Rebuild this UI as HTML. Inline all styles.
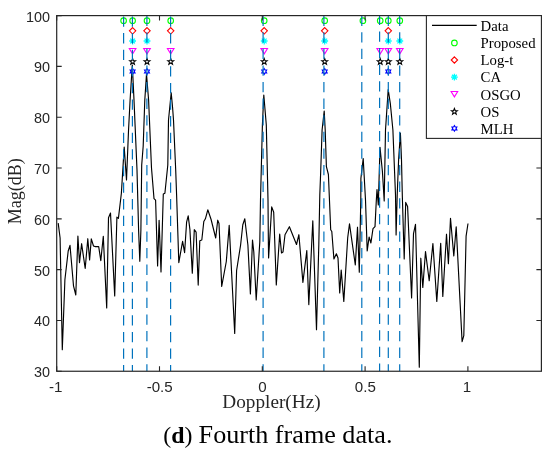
<!DOCTYPE html><html><head><meta charset="utf-8"><style>html,body{margin:0;padding:0;background:#fff;}svg{display:block;}</style></head><body>
<svg width="550" height="453" viewBox="0 0 550 453">
<rect width="550" height="453" fill="#fff"/>
<defs><clipPath id="c"><rect x="56.7" y="15.6" width="484.7" height="355.65"/></clipPath></defs>
<g clip-path="url(#c)">
<polyline points="58.2,223.1 60.1,238.0 62.3,349.7 64.9,279.8 68.2,251.0 70.0,245.4 73.5,285.8 75.8,295.0 77.9,236.0 79.5,262.6 81.6,243.7 85.2,268.5 87.8,238.7 89.6,260.0 91.3,238.9 93.5,246.0 95.4,246.6 98.7,246.6 100.8,260.6 103.3,236.4 106.7,308.0 108.5,217.7 110.5,213.0 114.7,296.0 116.9,217.1 118.4,218.4 121.4,193.0 124.2,147.1 126.5,180.0 128.5,131.0 130.1,100.0 132.3,65.0 134.0,100.0 137.0,170.0 138.6,230.0 139.8,261.3 140.9,230.0 141.7,165.0 143.2,146.0 144.8,100.0 146.5,74.0 148.6,100.0 151.5,168.0 154.0,198.6 155.6,200.2 157.6,266.0 159.1,220.3 161.0,272.0 163.3,194.0 164.9,193.2 167.8,165.0 168.5,120.0 171.2,92.8 172.6,107.7 173.5,120.0 175.7,170.0 176.6,195.0 178.8,262.6 182.6,241.4 184.6,252.6 186.6,222.2 188.2,215.9 189.9,229.4 192.3,273.2 194.3,229.7 196.1,232.1 198.2,285.1 199.8,240.7 201.8,240.0 203.8,221.5 205.4,218.8 207.8,209.8 211.1,219.5 215.7,238.0 217.7,220.2 219.0,223.5 221.7,286.4 226.3,261.5 229.2,225.4 234.7,333.4 236.6,270.5 240.6,245.0 242.8,224.7 244.8,218.8 247.9,245.0 250.4,294.0 252.5,240.0 253.8,252.0 256.2,300.0 259.8,242.0 260.5,200.0 262.4,125.0 263.8,95.0 266.3,125.0 268.0,200.0 268.4,245.0 268.6,258.0 271.7,206.9 273.7,212.2 276.3,285.0 279.7,234.0 281.5,253.0 283.0,252.0 285.0,234.7 287.6,230.0 289.4,226.7 296.5,244.5 298.9,234.7 302.9,282.4 306.8,250.6 308.8,304.6 312.8,220.8 316.5,329.7 318.8,245.0 319.8,195.0 320.7,171.4 322.1,130.0 324.2,111.0 325.2,130.0 326.4,166.7 328.4,174.5 330.7,229.7 331.8,231.5 333.9,258.9 336.4,253.8 338.0,258.0 339.7,293.0 341.2,270.0 343.8,301.5 347.7,237.7 349.5,223.8 355.3,265.0 357.5,227.2 359.3,272.2 360.8,200.0 360.9,178.4 363.2,158.5 365.5,200.0 367.2,251.0 369.1,237.0 370.9,243.0 373.0,228.7 375.0,226.6 376.3,200.7 377.0,189.5 378.3,205.0 380.0,147.3 382.4,171.4 384.2,201.0 385.5,130.0 388.2,89.5 390.3,103.3 392.9,130.0 395.5,195.0 396.1,235.0 397.2,195.0 398.6,160.0 400.4,133.0 401.5,160.0 402.3,195.0 404.2,259.0 405.7,202.4 407.6,206.5 411.6,298.0 413.5,233.7 415.5,224.4 419.3,367.2 420.8,258.2 422.8,287.4 425.5,251.6 429.2,280.8 432.9,243.5 436.8,301.5 440.7,243.3 442.8,296.5 446.5,234.2 448.4,263.6 450.5,218.3 453.8,256.0 456.2,226.8 462.1,341.7 463.8,335.7 466.1,236.1 468.0,223.5" fill="none" stroke="#000" stroke-width="1.15" stroke-linejoin="round"/>
<circle cx="123.60" cy="20.68" r="2.8" fill="none" stroke="#00ff00" stroke-width="1.1"/>
<circle cx="132.60" cy="20.68" r="2.8" fill="none" stroke="#00ff00" stroke-width="1.1"/>
<path d="M132.60 27.64L135.80 30.84L132.60 34.04L129.40 30.84Z" fill="none" stroke="#ff0000" stroke-width="1.1"/>
<path d="M129.20 41.00L136.00 41.00M130.20 38.60L135.00 43.41M132.60 37.60L132.60 44.40M135.00 38.60L130.20 43.41" fill="none" stroke="#00ffff" stroke-width="1.3"/>
<path d="M129.30 48.46L135.90 48.46L132.60 53.87Z" fill="none" stroke="#ff00ff" stroke-width="1.1"/>
<polygon points="132.60,58.53 133.37,60.57 135.55,60.67 133.84,62.03 134.42,64.13 132.60,62.93 130.78,64.13 131.36,62.03 129.65,60.67 131.83,60.57" fill="none" stroke="#000" stroke-width="1.1"/>
<polygon points="132.60,68.64 133.42,70.06 135.07,70.06 134.24,71.49 135.07,72.91 133.42,72.91 132.60,74.34 131.78,72.91 130.13,72.91 130.96,71.49 130.13,70.06 131.78,70.06" fill="none" stroke="#0000ff" stroke-width="1.1"/>
<circle cx="147.00" cy="20.68" r="2.8" fill="none" stroke="#00ff00" stroke-width="1.1"/>
<path d="M147.00 27.64L150.20 30.84L147.00 34.04L143.80 30.84Z" fill="none" stroke="#ff0000" stroke-width="1.1"/>
<path d="M143.60 41.00L150.40 41.00M144.60 38.60L149.40 43.41M147.00 37.60L147.00 44.40M149.40 38.60L144.60 43.41" fill="none" stroke="#00ffff" stroke-width="1.3"/>
<path d="M143.70 48.46L150.30 48.46L147.00 53.87Z" fill="none" stroke="#ff00ff" stroke-width="1.1"/>
<polygon points="147.00,58.53 147.77,60.57 149.95,60.67 148.24,62.03 148.82,64.13 147.00,62.93 145.18,64.13 145.76,62.03 144.05,60.67 146.23,60.57" fill="none" stroke="#000" stroke-width="1.1"/>
<polygon points="147.00,68.64 147.82,70.06 149.47,70.06 148.64,71.49 149.47,72.91 147.82,72.91 147.00,74.34 146.18,72.91 144.53,72.91 145.36,71.49 144.53,70.06 146.18,70.06" fill="none" stroke="#0000ff" stroke-width="1.1"/>
<circle cx="170.70" cy="20.68" r="2.8" fill="none" stroke="#00ff00" stroke-width="1.1"/>
<path d="M170.70 27.64L173.90 30.84L170.70 34.04L167.50 30.84Z" fill="none" stroke="#ff0000" stroke-width="1.1"/>
<path d="M167.40 48.46L174.00 48.46L170.70 53.87Z" fill="none" stroke="#ff00ff" stroke-width="1.1"/>
<polygon points="170.70,58.53 171.47,60.57 173.65,60.67 171.94,62.03 172.52,64.13 170.70,62.93 168.88,64.13 169.46,62.03 167.75,60.67 169.93,60.57" fill="none" stroke="#000" stroke-width="1.1"/>
<circle cx="264.20" cy="20.68" r="2.8" fill="none" stroke="#00ff00" stroke-width="1.1"/>
<path d="M264.20 27.64L267.40 30.84L264.20 34.04L261.00 30.84Z" fill="none" stroke="#ff0000" stroke-width="1.1"/>
<path d="M260.80 41.00L267.60 41.00M261.80 38.60L266.60 43.41M264.20 37.60L264.20 44.40M266.60 38.60L261.80 43.41" fill="none" stroke="#00ffff" stroke-width="1.3"/>
<path d="M260.90 48.46L267.50 48.46L264.20 53.87Z" fill="none" stroke="#ff00ff" stroke-width="1.1"/>
<polygon points="264.20,58.53 264.97,60.57 267.15,60.67 265.44,62.03 266.02,64.13 264.20,62.93 262.38,64.13 262.96,62.03 261.25,60.67 263.43,60.57" fill="none" stroke="#000" stroke-width="1.1"/>
<polygon points="264.20,68.64 265.02,70.06 266.67,70.06 265.84,71.49 266.67,72.91 265.02,72.91 264.20,74.34 263.38,72.91 261.73,72.91 262.56,71.49 261.73,70.06 263.38,70.06" fill="none" stroke="#0000ff" stroke-width="1.1"/>
<circle cx="324.70" cy="20.68" r="2.8" fill="none" stroke="#00ff00" stroke-width="1.1"/>
<path d="M324.70 27.64L327.90 30.84L324.70 34.04L321.50 30.84Z" fill="none" stroke="#ff0000" stroke-width="1.1"/>
<path d="M321.30 41.00L328.10 41.00M322.30 38.60L327.10 43.41M324.70 37.60L324.70 44.40M327.10 38.60L322.30 43.41" fill="none" stroke="#00ffff" stroke-width="1.3"/>
<path d="M321.40 48.46L328.00 48.46L324.70 53.87Z" fill="none" stroke="#ff00ff" stroke-width="1.1"/>
<polygon points="324.70,58.53 325.47,60.57 327.65,60.67 325.94,62.03 326.52,64.13 324.70,62.93 322.88,64.13 323.46,62.03 321.75,60.67 323.93,60.57" fill="none" stroke="#000" stroke-width="1.1"/>
<polygon points="324.70,68.64 325.52,70.06 327.17,70.06 326.34,71.49 327.17,72.91 325.52,72.91 324.70,74.34 323.88,72.91 322.23,72.91 323.06,71.49 322.23,70.06 323.88,70.06" fill="none" stroke="#0000ff" stroke-width="1.1"/>
<circle cx="362.90" cy="20.68" r="2.8" fill="none" stroke="#00ff00" stroke-width="1.1"/>
<circle cx="380.20" cy="20.68" r="2.8" fill="none" stroke="#00ff00" stroke-width="1.1"/>
<path d="M376.90 48.46L383.50 48.46L380.20 53.87Z" fill="none" stroke="#ff00ff" stroke-width="1.1"/>
<polygon points="380.20,58.53 380.97,60.57 383.15,60.67 381.44,62.03 382.02,64.13 380.20,62.93 378.38,64.13 378.96,62.03 377.25,60.67 379.43,60.57" fill="none" stroke="#000" stroke-width="1.1"/>
<circle cx="388.30" cy="20.68" r="2.8" fill="none" stroke="#00ff00" stroke-width="1.1"/>
<path d="M388.30 27.64L391.50 30.84L388.30 34.04L385.10 30.84Z" fill="none" stroke="#ff0000" stroke-width="1.1"/>
<path d="M384.90 41.00L391.70 41.00M385.90 38.60L390.70 43.41M388.30 37.60L388.30 44.40M390.70 38.60L385.90 43.41" fill="none" stroke="#00ffff" stroke-width="1.3"/>
<path d="M385.00 48.46L391.60 48.46L388.30 53.87Z" fill="none" stroke="#ff00ff" stroke-width="1.1"/>
<polygon points="388.30,58.53 389.07,60.57 391.25,60.67 389.54,62.03 390.12,64.13 388.30,62.93 386.48,64.13 387.06,62.03 385.35,60.67 387.53,60.57" fill="none" stroke="#000" stroke-width="1.1"/>
<polygon points="388.30,68.64 389.12,70.06 390.77,70.06 389.94,71.49 390.77,72.91 389.12,72.91 388.30,74.34 387.48,72.91 385.83,72.91 386.66,71.49 385.83,70.06 387.48,70.06" fill="none" stroke="#0000ff" stroke-width="1.1"/>
<circle cx="399.80" cy="20.68" r="2.8" fill="none" stroke="#00ff00" stroke-width="1.1"/>
<path d="M396.40 41.00L403.20 41.00M397.40 38.60L402.20 43.41M399.80 37.60L399.80 44.40M402.20 38.60L397.40 43.41" fill="none" stroke="#00ffff" stroke-width="1.3"/>
<path d="M396.50 48.46L403.10 48.46L399.80 53.87Z" fill="none" stroke="#ff00ff" stroke-width="1.1"/>
<polygon points="399.80,58.53 400.57,60.57 402.75,60.67 401.04,62.03 401.62,64.13 399.80,62.93 397.98,64.13 398.56,62.03 396.85,60.67 399.03,60.57" fill="none" stroke="#000" stroke-width="1.1"/>
<line x1="123.6" y1="15.6" x2="123.6" y2="371.25" stroke="#0072bd" stroke-width="1.2" stroke-dasharray="10.3 6.3" stroke-dashoffset="-0.9"/>
<line x1="132.4" y1="15.6" x2="132.4" y2="371.25" stroke="#0072bd" stroke-width="1.2" stroke-dasharray="10.3 6.3" stroke-dashoffset="-0.9"/>
<line x1="146.9" y1="15.6" x2="146.9" y2="371.25" stroke="#0072bd" stroke-width="1.2" stroke-dasharray="10.3 6.3" stroke-dashoffset="0"/>
<line x1="170.6" y1="15.6" x2="170.6" y2="371.25" stroke="#0072bd" stroke-width="1.2" stroke-dasharray="10.3 6.3" stroke-dashoffset="-0.9"/>
<line x1="263.1" y1="15.6" x2="263.1" y2="371.25" stroke="#0072bd" stroke-width="1.2" stroke-dasharray="10.3 6.3" stroke-dashoffset="0"/>
<line x1="323.9" y1="15.6" x2="323.9" y2="371.25" stroke="#0072bd" stroke-width="1.2" stroke-dasharray="10.3 6.3" stroke-dashoffset="0"/>
<line x1="361.8" y1="15.6" x2="361.8" y2="371.25" stroke="#0072bd" stroke-width="1.2" stroke-dasharray="10.3 6.3" stroke-dashoffset="0"/>
<line x1="379.6" y1="15.6" x2="379.6" y2="371.25" stroke="#0072bd" stroke-width="1.2" stroke-dasharray="10.3 6.3" stroke-dashoffset="0.8"/>
<line x1="388.3" y1="15.6" x2="388.3" y2="371.25" stroke="#0072bd" stroke-width="1.2" stroke-dasharray="10.3 6.3" stroke-dashoffset="0"/>
<line x1="399.7" y1="15.6" x2="399.7" y2="371.25" stroke="#0072bd" stroke-width="1.2" stroke-dasharray="10.3 6.3" stroke-dashoffset="0"/>
</g>
<rect x="56.7" y="15.6" width="484.70" height="355.65" fill="none" stroke="#262626" stroke-width="1.2"/>
<path d="M56.7 371.25h5M56.7 320.44h5M541.4 320.44h-5M56.7 269.64h5M541.4 269.64h-5M56.7 218.83h5M541.4 218.83h-5M56.7 168.02h5M541.4 168.02h-5M56.7 117.21h5M56.7 66.41h5M56.7 15.60h5M56.70 371.25v-5M56.70 15.6v5M159.50 371.25v-5M159.50 15.6v5M262.30 371.25v-5M262.30 15.6v5M365.10 371.25v-5M365.10 15.6v5M467.90 371.25v-5" stroke="#262626" stroke-width="1.1" fill="none"/>
<g font-family="Liberation Sans, Arial, sans-serif" font-size="14" fill="#262626">
<text transform="translate(50.1 377.25) scale(1.03 1)" text-anchor="end">30</text>
<text transform="translate(50.1 326.44) scale(1.03 1)" text-anchor="end">40</text>
<text transform="translate(50.1 275.64) scale(1.03 1)" text-anchor="end">50</text>
<text transform="translate(50.1 224.83) scale(1.03 1)" text-anchor="end">60</text>
<text transform="translate(50.1 174.02) scale(1.03 1)" text-anchor="end">70</text>
<text transform="translate(50.1 123.21) scale(1.03 1)" text-anchor="end">80</text>
<text transform="translate(50.1 72.41) scale(1.03 1)" text-anchor="end">90</text>
<text transform="translate(50.1 21.60) scale(1.03 1)" text-anchor="end">100</text>
<text transform="translate(55.80 391.8) scale(1.08 1)" text-anchor="middle">-1</text>
<text transform="translate(159.70 391.8) scale(1.08 1)" text-anchor="middle">-0.5</text>
<text transform="translate(262.50 391.8) scale(1.08 1)" text-anchor="middle">0</text>
<text transform="translate(365.30 391.8) scale(1.08 1)" text-anchor="middle">0.5</text>
<text transform="translate(467.00 391.8) scale(1.08 1)" text-anchor="middle">1</text>
</g>
<g font-family="Liberation Serif, Times New Roman, serif" fill="#262626">
<text x="222.3" y="408.2" font-size="17.9" transform="translate(222.3 0) scale(1.075 1) translate(-222.3 0)">Doppler(Hz)</text>
<text transform="translate(21 191.2) rotate(-90)" font-size="18" text-anchor="middle">Mag(dB)</text>
</g>
<rect x="426.4" y="15.6" width="115.00" height="122.80" fill="#fff" stroke="#262626" stroke-width="1.1"/>
<g font-family="Liberation Serif, Times New Roman, serif" font-size="14" fill="#000">
<line x1="432" y1="25.40" x2="476.7" y2="25.40" stroke="#000" stroke-width="1.3"/>
<text x="480.6" y="31.20" transform="translate(480.6 0) scale(1.055 1) translate(-480.6 0)">Data</text>
<circle cx="454.40" cy="42.90" r="2.8" fill="none" stroke="#00ff00" stroke-width="1.1"/>
<text x="480.6" y="48.30" transform="translate(480.6 0) scale(1.055 1) translate(-480.6 0)">Proposed</text>
<path d="M454.40 56.80L457.60 60.00L454.40 63.20L451.20 60.00Z" fill="none" stroke="#ff0000" stroke-width="1.1"/>
<text x="480.6" y="65.40" transform="translate(480.6 0) scale(1.055 1) translate(-480.6 0)">Log-t</text>
<path d="M451.00 77.10L457.80 77.10M452.00 74.70L456.80 79.50M454.40 73.70L454.40 80.50M456.80 74.70L452.00 79.50" fill="none" stroke="#00ffff" stroke-width="1.3"/>
<text x="480.6" y="82.50" transform="translate(480.6 0) scale(1.055 1) translate(-480.6 0)">CA</text>
<path d="M451.10 91.50L457.70 91.50L454.40 96.90Z" fill="none" stroke="#ff00ff" stroke-width="1.1"/>
<text x="480.6" y="99.60" transform="translate(480.6 0) scale(1.055 1) translate(-480.6 0)">OSGO</text>
<polygon points="454.40,108.50 455.17,110.55 457.35,110.64 455.64,112.00 456.22,114.11 454.40,112.90 452.58,114.11 453.16,112.00 451.45,110.64 453.63,110.55" fill="none" stroke="#000" stroke-width="1.1"/>
<text x="480.6" y="116.70" transform="translate(480.6 0) scale(1.055 1) translate(-480.6 0)">OS</text>
<polygon points="454.40,125.55 455.22,126.98 456.87,126.98 456.04,128.40 456.87,129.83 455.22,129.82 454.40,131.25 453.58,129.82 451.93,129.83 452.76,128.40 451.93,126.98 453.58,126.98" fill="none" stroke="#0000ff" stroke-width="1.1"/>
<text x="480.6" y="133.80" transform="translate(480.6 0) scale(1.055 1) translate(-480.6 0)">MLH</text>
</g>
<text x="163.3" y="442.7" font-family="Liberation Serif, Times New Roman, serif" font-size="22.3" fill="#000" transform="translate(163.3 0) scale(1.07 1) translate(-163.3 0)">(<tspan font-weight="bold">d</tspan>)</text>
<text x="198.6" y="442.8" font-family="Liberation Serif, Times New Roman, serif" font-size="24.5" fill="#000" transform="translate(198.6 0) scale(1.068 1) translate(-198.6 0)">Fourth frame data.</text>
</svg></body></html>
